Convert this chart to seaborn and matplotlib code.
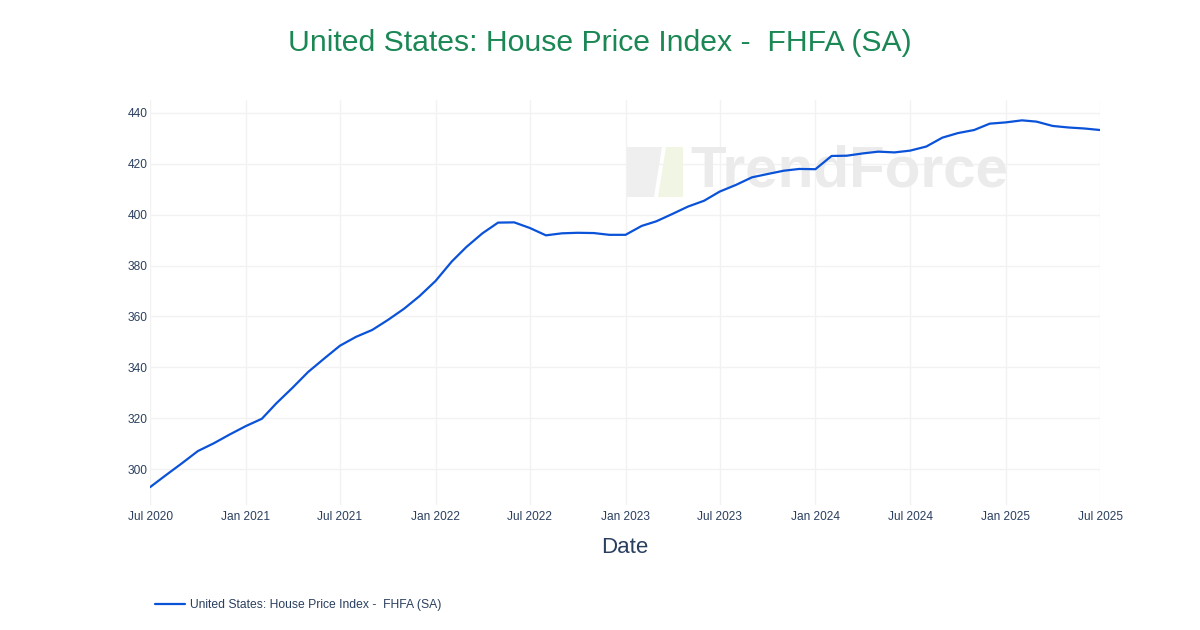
import pandas as pd
import seaborn as sns
import matplotlib.pyplot as plt
import matplotlib.dates as mdates
from matplotlib.patches import Polygon

# monthly index values, Jul 2020 .. Jul 2025
start_month = '2020-07-01'
hpi_values = [
    292.9, 297.7, 302.4, 307.1, 310.2, 313.6,          # 2020 H2
    316.9, 319.8, 325.9, 332.0, 338.2, 343.5,          # 2021 H1
    348.5, 352.0, 354.7, 358.6, 363.0, 368.0,          # 2021 H2
    374.0, 381.6, 387.3, 392.7, 396.9, 397.0,          # 2022 H1
    394.8, 391.9, 392.7, 392.9, 392.8, 392.1,          # 2022 H2
    392.1, 395.6, 397.4, 400.3, 403.2, 405.5,          # 2023 H1
    409.1, 411.7, 414.7, 416.0, 417.3, 418.0,          # 2023 H2
    417.9, 423.1, 423.2, 424.1, 424.8, 424.5,          # 2024 H1
    425.2, 426.8, 430.3, 432.1, 433.3, 435.8,          # 2024 H2
    436.3, 437.1, 436.6, 434.9, 434.3, 433.9,          # 2025 H1
    433.3,                                              # Jul 2025
]
series_name = 'United States: House Price Index -  FHFA (SA)'

df = pd.DataFrame({
    'date': pd.date_range(start_month, periods=len(hpi_values), freq='MS'),
    'value': hpi_values,
})

sns.set_theme(style='white')
plt.rcParams['font.family'] = ['Liberation Sans', 'DejaVu Sans']

text_color = '#2a3f5f'
W, H = 1200, 630
fig = plt.figure(figsize=(12, 6.3), dpi=100)
ax = fig.add_axes([150 / W, 1 - 505 / H, 950 / W, 405 / H])

# watermark (logo + wordmark), drawn behind the line
wm = dict(transform=fig.transFigure, zorder=1, clip_on=False)
ax.add_patch(Polygon([(627 / W, 1 - 147 / H), (662 / W, 1 - 147 / H), (654 / W, 1 - 197 / H), (627 / W, 1 - 197 / H)],
                     closed=True, facecolor='#efefef', edgecolor='none', **wm))
ax.add_patch(Polygon([(666 / W, 1 - 147 / H), (683 / W, 1 - 147 / H), (683 / W, 1 - 197 / H), (658 / W, 1 - 197 / H)],
                     closed=True, facecolor='#f1f5e4', edgecolor='none', **wm))
ax.text(849 / W, 1 - 172 / H, 'TrendForce', ha='center', va='center', fontsize=42,
        fontweight='bold', color='#ebebeb', **wm)

sns.lineplot(data=df, x='date', y='value', ax=ax, color='#0a52d8', linewidth=1.6,
             label=series_name, zorder=3)

ax.set_xlim(pd.Timestamp('2020-07-01'), pd.Timestamp('2025-07-01'))
ax.set_ylim(285.9, 445.1)
ax.set_yticks(range(300, 441, 20))
ax.xaxis.set_major_locator(mdates.MonthLocator(bymonth=[1, 7]))
ax.xaxis.set_major_formatter(mdates.DateFormatter('%b %Y'))

ax.grid(True, color='#f2f2f2', linewidth=1)
for s in ax.spines.values():
    s.set_visible(False)
ax.tick_params(axis='x', length=0, labelsize=8.6, colors=text_color, pad=4.5)
ax.tick_params(axis='y', length=0, labelsize=8.6, colors=text_color, pad=1.5)

ax.set_xlabel('Date', fontsize=16, color=text_color, labelpad=10)
ax.set_ylabel('')

fig.text(0.5, 1 - 51 / H, series_name, ha='center', va='baseline', fontsize=21.7, color='#1a8754')

ax.legend(loc='upper left', bbox_to_anchor=(-0.006, -0.205), frameon=False,
          fontsize=8.7, labelcolor=text_color, handlelength=2.5, handletextpad=0.4)

fig.savefig('out.png', dpi=100, facecolor='white')
